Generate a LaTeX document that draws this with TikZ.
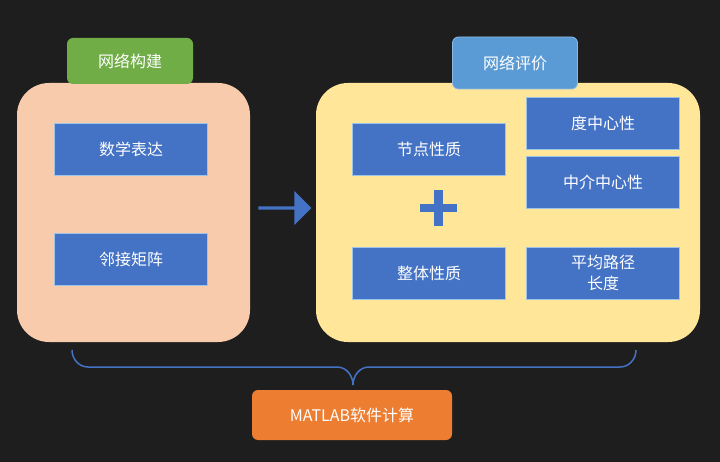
\documentclass[tikz,border=0pt]{standalone}
\usepackage{fontspec}
\setmainfont{Noto Sans CJK SC}
\usetikzlibrary{shapes.arrows}
\definecolor{bgdark}{HTML}{1E1E1E}
\definecolor{salmon}{HTML}{F8CBAD}
\definecolor{paleyellow}{HTML}{FFE699}
\definecolor{boxblue}{HTML}{4472C4}
\definecolor{lightblue}{HTML}{5B9BD5}
\definecolor{tagGreen}{HTML}{70AD47}
\definecolor{tagOrange}{HTML}{ED7D31}
\begin{document}
\begin{tikzpicture}[x=1pt, y=-1pt, thick,
  item/.style={draw=lightblue!60, fill=boxblue, text=white, minimum width=153pt, minimum height=52pt, font=\fontsize{16}{19}\selectfont, align=center, line width=0.8pt},
  tag/.style={text=white, rounded corners=6pt, font=\fontsize{16}{19}\selectfont, minimum height=46pt},
  panel/.style={rounded corners=32pt}]
\fill[bgdark] (0,0) rectangle (720,462);
\useasboundingbox (0,0) rectangle (720,462);

\fill[salmon, panel] (17,83) rectangle (250,342);
\fill[paleyellow, panel] (316,83) rectangle (700,342);

\node[tag, fill=tagGreen, minimum width=126pt] (build) at (130,61) {网络构建};
\node[tag, fill=lightblue, minimum width=125pt, minimum height=52pt, draw=lightblue!70] (eval) at (515,63) {网络评价};

\node[item] (math) at (131,149) {数学表达};
\node[item] (adj) at (131,259) {邻接矩阵};

\node[item] (local) at (429,149) {节点性质};
\node[item] (global) at (429,273) {整体性质};
\node[item] (degree) at (603,123) {度中心性};
\node[item] (between) at (603,182) {中介中心性};
\node[item, font=\fontsize{16}{21}\selectfont] (path) at (603,273) {平均路径\\长度};

\node[fill=boxblue, single arrow, minimum height=53pt, minimum width=34pt, single arrow head extend=4pt, inner sep=0pt, single arrow tip angle=90] (arr) at (284,208) {};
\fill[boxblue] (434,190) rectangle (443,226);
\fill[boxblue] (420,204) rectangle (457,212);

\coordinate (bl) at (72,350);
\coordinate (br) at (636,350);
\coordinate (bc) at (353,385);
\draw[boxblue, line width=1.5pt] (bl) to[out=-90, in=180] (88,367) -- (337,367) to[out=0, in=90] (bc);
\draw[boxblue, line width=1.5pt] (br) to[out=-90, in=0] (620,367) -- (369,367) to[out=180, in=90] (bc);

\node[tag, fill=tagOrange, minimum width=200pt, minimum height=50pt] (matlab) at (352,415) {MATLAB软件计算};
\end{tikzpicture}
\end{document}
